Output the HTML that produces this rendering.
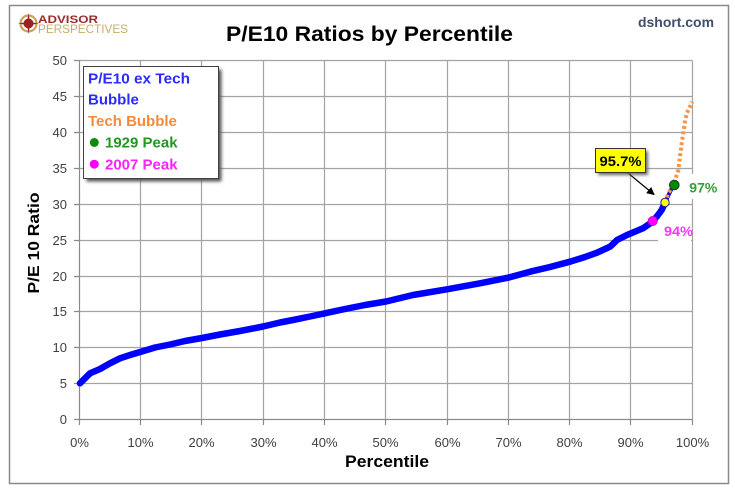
<!DOCTYPE html>
<html><head><meta charset="utf-8"><style>
html,body{margin:0;padding:0;background:#fff;}
svg{display:block;font-family:"Liberation Sans",Arial,sans-serif;}
</style></head><body>
<svg width="735" height="490" viewBox="0 0 735 490" xmlns="http://www.w3.org/2000/svg">
<defs>
<filter id="sh" x="-20%" y="-20%" width="140%" height="140%"><feGaussianBlur stdDeviation="1.5"/></filter>
<marker id="ah" markerWidth="8" markerHeight="8" refX="7" refY="4" orient="auto" markerUnits="userSpaceOnUse"><path d="M0,0 L8,4 L0,8 Z" fill="#000"/></marker>
</defs>
<rect x="0" y="0" width="735" height="490" fill="#fff"/>
<rect x="9.5" y="5.5" width="719" height="478" fill="#fff" stroke="#8a8a8a" stroke-width="1.5"/>

<!-- logo -->
<circle cx="28.5" cy="23.5" r="8" fill="none" stroke="#c8a25c" stroke-width="2.2"/>
<circle cx="28.5" cy="23.5" r="5" fill="#9b2222"/>
<path d="M28.5,13 L30,22 L39,23.5 L30,25 L28.5,34 L27,25 L18,23.5 L27,22 Z" fill="#9b2222"/>
<text x="38" y="23" font-size="11" font-weight="bold" fill="#9b2a2a" textLength="60" lengthAdjust="spacingAndGlyphs">ADVISOR</text>
<text x="38" y="33" font-size="12" fill="#c9ac6a" textLength="90" lengthAdjust="spacingAndGlyphs">PERSPECTIVES</text>

<text x="638" y="27" font-size="14" font-weight="bold" fill="#3f4e6c" textLength="76" lengthAdjust="spacingAndGlyphs">dshort.com</text>
<text x="369.5" y="41" font-size="21" font-weight="bold" fill="#000" text-anchor="middle" textLength="287" lengthAdjust="spacingAndGlyphs">P/E10 Ratios by Percentile</text>

<!-- grid -->
<g stroke="#a3a3a3" stroke-width="1.2" fill="none">
<path d="M140.5,60.5V419.5M201.5,60.5V419.5M263.5,60.5V419.5M324.5,60.5V419.5M385.5,60.5V419.5M447.5,60.5V419.5M508.5,60.5V419.5M569.5,60.5V419.5M630.5,60.5V419.5M692.5,60.5V419.5"/>
<path d="M79.5,60.5H692.5M79.5,96.5H692.5M79.5,132.5H692.5M79.5,168.5H692.5M79.5,204.5H692.5M79.5,240.5H692.5M79.5,276.5H692.5M79.5,311.5H692.5M79.5,347.5H692.5M79.5,383.5H692.5"/>
</g>
<g stroke="#8a8a8a" stroke-width="1.2" fill="none">
<path d="M79.5,60.5V419.5H692.5"/>
<path d="M74,60.5H79.5M74,96.5H79.5M74,132.5H79.5M74,168.5H79.5M74,204.5H79.5M74,240.5H79.5M74,276.5H79.5M74,311.5H79.5M74,347.5H79.5M74,383.5H79.5M74,419.5H79.5"/>
<path d="M79.5,419.5V425M140.5,419.5V425M201.5,419.5V425M263.5,419.5V425M324.5,419.5V425M385.5,419.5V425M447.5,419.5V425M508.5,419.5V425M569.5,419.5V425M630.5,419.5V425M692.5,419.5V425"/>
</g>

<!-- y tick labels -->
<g font-size="13" fill="#404040" text-anchor="end">
<text x="67" y="65">50</text><text x="67" y="101">45</text><text x="67" y="137">40</text><text x="67" y="173">35</text><text x="67" y="209">30</text><text x="67" y="245">25</text><text x="67" y="281">20</text><text x="67" y="316">15</text><text x="67" y="352">10</text><text x="67" y="388">5</text><text x="67" y="424">0</text>
</g>
<!-- x tick labels -->
<g font-size="13" fill="#404040" text-anchor="middle">
<text x="79.5" y="447">0%</text><text x="140.5" y="447">10%</text><text x="201.5" y="447">20%</text><text x="263.5" y="447">30%</text><text x="324.5" y="447">40%</text><text x="385.5" y="447">50%</text><text x="447.5" y="447">60%</text><text x="508.5" y="447">70%</text><text x="569.5" y="447">80%</text><text x="630.5" y="447">90%</text><text x="692.5" y="447">100%</text>
</g>
<text x="387" y="467" font-size="17" font-weight="bold" fill="#000" text-anchor="middle" textLength="84" lengthAdjust="spacingAndGlyphs">Percentile</text>
<text transform="translate(39,243) rotate(-90)" font-size="16" font-weight="bold" fill="#000" text-anchor="middle" textLength="101" lengthAdjust="spacingAndGlyphs">P/E 10 Ratio</text>

<!-- label backgrounds -->
<rect x="684" y="174" width="40" height="25" fill="#fff"/>
<rect x="658" y="221" width="33" height="23" fill="#fff"/>

<!-- blue series -->
<polyline fill="none" stroke="#0000ff" stroke-width="6.5" stroke-linejoin="round" stroke-linecap="round" points="80,383.3 85,378.3 90,373.3 100,369 110,363.3 120,358.3 130,355 141,351.7 155,347.5 170,344.5 185,341 202,338 220,334.5 240,331 263,326.5 280,322.5 293,320 310,316.5 325,313.3 345,309 365,305 386,301.5 413,295 447,289.3 480,283.3 508,277.7 530,271.7 550,267 570,261.7 585,257 597,252.7 605,249 610,246.7 614,243 617,240 627,235 643,228.3 652.7,221.7 658,215 661.7,210 665,202.7"/>
<polyline fill="none" stroke="#0000ff" stroke-width="4" stroke-linecap="round" points="665,202.7 669,194 672,188"/>
<!-- orange series -->
<polyline fill="none" stroke="#f79646" stroke-width="4" stroke-dasharray="3 2.5" stroke-linejoin="round" points="665,202.7 668.3,193.3 673.7,184.3 678.3,170 680,156.7 681.7,143.3 683.3,133.3 685,121.7 686.7,113.3 690,106.7 692.3,101.7"/>

<!-- markers -->
<circle cx="652.7" cy="221" r="4.6" fill="#ff00ff" stroke="#c000c0" stroke-width="0.8"/>
<circle cx="665" cy="202.5" r="4.2" fill="#ffff00" stroke="#2020a0" stroke-width="1"/>
<circle cx="674.3" cy="185" r="4.8" fill="#008a00" stroke="#204020" stroke-width="1"/>

<text x="689.3" y="192.5" font-size="14" font-weight="bold" fill="#34a034" textLength="28" lengthAdjust="spacingAndGlyphs">97%</text>
<text x="664" y="236" font-size="14" font-weight="bold" fill="#ff33ff" textLength="29" lengthAdjust="spacingAndGlyphs">94%</text>

<!-- callout -->
<line x1="628" y1="173" x2="654" y2="194.5" stroke="#000" stroke-width="1.2" marker-end="url(#ah)"/>
<rect x="598" y="151" width="50" height="24" fill="#666" filter="url(#sh)"/>
<rect x="595.5" y="148.5" width="50" height="24" fill="#ffff00" stroke="#333" stroke-width="1"/>
<text x="620.5" y="166" font-size="14" font-weight="bold" fill="#000" text-anchor="middle" textLength="42" lengthAdjust="spacingAndGlyphs">95.7%</text>

<!-- legend -->
<rect x="86.5" y="69.5" width="135" height="112" fill="#555" filter="url(#sh)"/>
<rect x="83.5" y="66.5" width="135" height="112" fill="#fff" stroke="#404040" stroke-width="1"/>
<g font-size="15" font-weight="bold">
<text x="88" y="83.3" fill="#2b2bff" textLength="102" lengthAdjust="spacingAndGlyphs">P/E10 ex Tech</text>
<text x="88" y="104.5" fill="#2b2bff">Bubble</text>
<text x="88" y="126" fill="#f58a3c">Tech Bubble</text>
<text x="105" y="147.7" fill="#1f9a1f">1929 Peak</text>
<text x="105" y="169.3" fill="#ff22ff">2007 Peak</text>
</g>
<circle cx="94.3" cy="142.5" r="4.5" fill="#108a10"/>
<circle cx="94.3" cy="164.2" r="4.5" fill="#ff00ff"/>
</svg>
</body></html>
